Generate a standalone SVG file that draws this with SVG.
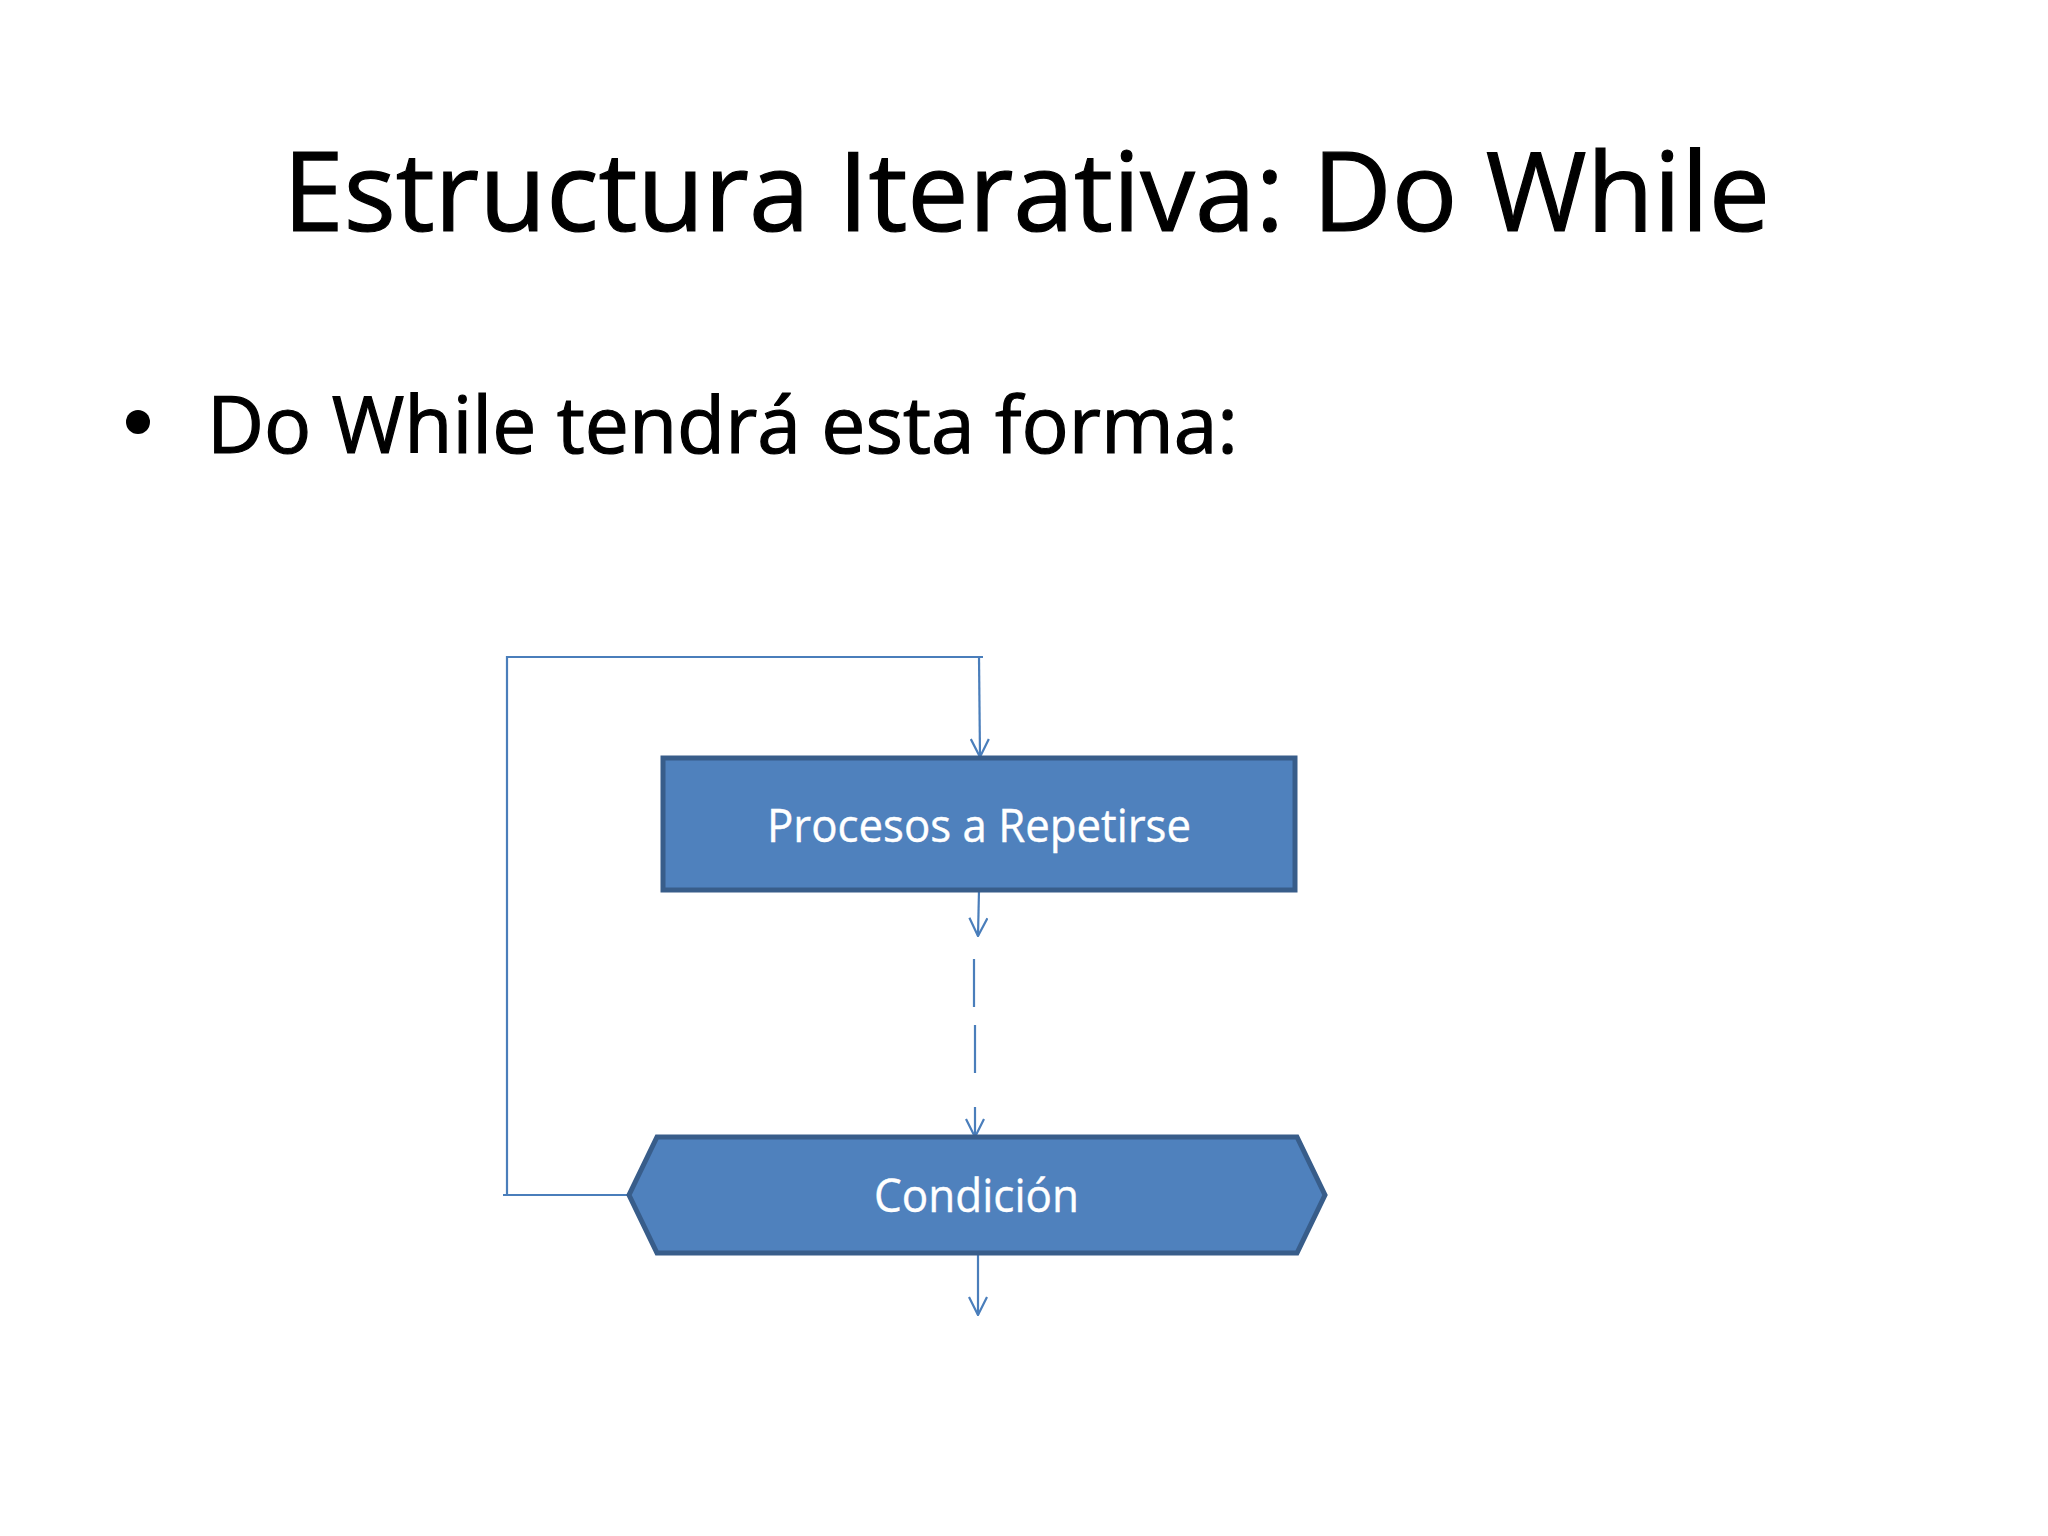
<svg xmlns="http://www.w3.org/2000/svg" width="2048" height="1536" viewBox="0 0 2048 1536">
<defs>
<style>
.title{font-family:"Open Sans","Noto Sans","Liberation Sans",sans-serif;fill:#000;stroke:#000;stroke-width:1.2}
.shape{fill:#4f81bd;stroke:#385d8a;stroke-width:5}
.lbl{font-family:"Open Sans","Noto Sans","Liberation Sans",sans-serif;font-size:46px;fill:#fff;stroke:#fff;stroke-width:0.4}
.conn{fill:none;stroke:#4a7ebb;stroke-width:2.2}
</style>
<marker id="arr" viewBox="0 0 20 20" refX="19" refY="10" markerWidth="20" markerHeight="20" markerUnits="userSpaceOnUse" orient="auto">
<path d="M1,1 L19,10 L1,19" fill="none" stroke="#4a7ebb" stroke-width="2.2"/>
</marker>
</defs>
<rect width="2048" height="1536" fill="#ffffff"/>
<text class="title" x="283" y="231" font-size="109" textLength="1487" lengthAdjust="spacingAndGlyphs">Estructura Iterativa: Do While</text>
<circle cx="138" cy="422" r="12" fill="#000"/>
<text class="title" x="207" y="453" font-size="78" textLength="1031" lengthAdjust="spacingAndGlyphs">Do While tendrá esta forma:</text>
<g id="connectors">
<path class="conn" d="M629,1195 H503 M507,1195 V657 H983"/>
<path class="conn" d="M979,657 L980,757" marker-end="url(#arr)"/>
<path class="conn" d="M979,890 L978,936" marker-end="url(#arr)"/>
<path class="conn" d="M974,959 V1007 M975,1025 V1073"/>
<path class="conn" d="M975,1107 L975,1137" marker-end="url(#arr)"/>
<path class="conn" d="M978,1253 V1315" marker-end="url(#arr)"/>
</g>
<g id="node-procesos">
<rect class="shape" x="663" y="758" width="632" height="132"/>
<text class="lbl" x="767" y="842" textLength="424" lengthAdjust="spacingAndGlyphs">Procesos a Repetirse</text>
</g>
<g id="node-condicion">
<polygon class="shape" points="657,1137 1297,1137 1325,1195 1297,1253 657,1253 629,1195"/>
<text class="lbl" x="874" y="1212" textLength="205" lengthAdjust="spacingAndGlyphs">Condición</text>
</g>
</svg>
